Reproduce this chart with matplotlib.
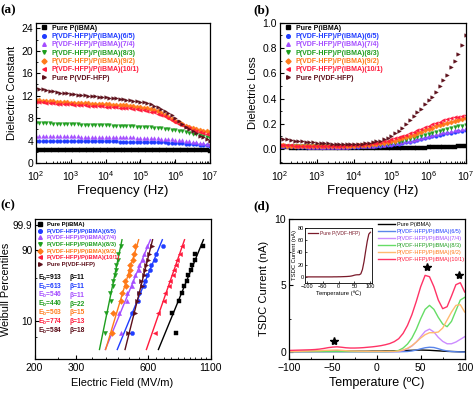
import numpy as np
import matplotlib
matplotlib.use('Agg')
import matplotlib.pyplot as plt
from matplotlib.lines import Line2D
from matplotlib.ticker import LogLocator, NullFormatter, FixedLocator, MultipleLocator

plt.rcParams['font.family'] = ['Liberation Sans', 'DejaVu Sans']
plt.rcParams['mathtext.default'] = 'regular'
plt.rcParams['xtick.direction'] = 'in'
plt.rcParams['ytick.direction'] = 'in'

# ---------------- data ----------------
names = ['Pure P(iBMA)', 'P(VDF-HFP)/P(iBMA)(6/5)', 'P(VDF-HFP)/P(iBMA)(7/4)',
         'P(VDF-HFP)/P(iBMA)(8/3)', 'P(VDF-HFP)/P(iBMA)(9/2)',
         'P(VDF-HFP)/P(iBMA)(10/1)', 'Pure P(VDF-HFP)']
colors = ['#000000', '#1f3cff', '#a54dff', '#1e9e1e', '#ff7a1a', '#ff1a3c', '#5c0f1a']
markers = ['s', 'o', '^', 'v', 'D', '<', '>']

# frequency exponents (log10 Hz), 0.1 decade steps
log_freq = [2.0, 2.1, 2.2, 2.3, 2.4, 2.5, 2.6, 2.7, 2.8, 2.9, 3.0,
            3.1, 3.2, 3.3, 3.4, 3.5, 3.6, 3.7, 3.8, 3.9, 4.0,
            4.1, 4.2, 4.3, 4.4, 4.5, 4.6, 4.7, 4.8, 4.9, 5.0,
            5.1, 5.2, 5.3, 5.4, 5.5, 5.6, 5.7, 5.8, 5.9, 6.0,
            6.1, 6.2, 6.3, 6.4, 6.5, 6.6, 6.7, 6.8, 6.9, 7.0]

eps_ibma = [2.40, 2.40, 2.39, 2.39, 2.38, 2.38, 2.37, 2.37, 2.37, 2.36, 2.36,
            2.36, 2.35, 2.35, 2.35, 2.34, 2.34, 2.34, 2.33, 2.33, 2.33,
            2.33, 2.32, 2.32, 2.32, 2.32, 2.31, 2.31, 2.31, 2.31, 2.30,
            2.30, 2.30, 2.30, 2.29, 2.29, 2.29, 2.28, 2.28, 2.28, 2.27,
            2.27, 2.27, 2.26, 2.26, 2.25, 2.25, 2.24, 2.24, 2.23, 2.22]
eps_65 = [3.97, 3.96, 3.95, 3.95, 3.94, 3.93, 3.93, 3.92, 3.92, 3.91, 3.91,
          3.90, 3.90, 3.89, 3.89, 3.88, 3.88, 3.87, 3.87, 3.86, 3.86,
          3.85, 3.85, 3.84, 3.83, 3.83, 3.82, 3.81, 3.80, 3.79, 3.78,
          3.77, 3.76, 3.74, 3.73, 3.71, 3.69, 3.67, 3.64, 3.61, 3.58,
          3.54, 3.50, 3.46, 3.41, 3.36, 3.31, 3.26, 3.21, 3.16, 3.10]
eps_74 = [4.85, 4.84, 4.83, 4.82, 4.81, 4.80, 4.79, 4.78, 4.77, 4.76, 4.75,
          4.74, 4.73, 4.72, 4.71, 4.70, 4.69, 4.68, 4.67, 4.66, 4.65,
          4.64, 4.63, 4.62, 4.61, 4.60, 4.58, 4.57, 4.55, 4.53, 4.51,
          4.49, 4.47, 4.44, 4.41, 4.38, 4.34, 4.30, 4.25, 4.20, 4.14,
          4.08, 4.01, 3.94, 3.86, 3.78, 3.70, 3.62, 3.54, 3.46, 3.38]
eps_83 = [7.12, 7.10, 7.08, 7.06, 7.04, 7.02, 7.00, 6.98, 6.96, 6.94, 6.92,
          6.90, 6.88, 6.86, 6.84, 6.82, 6.80, 6.78, 6.76, 6.74, 6.72,
          6.70, 6.68, 6.66, 6.64, 6.62, 6.59, 6.56, 6.53, 6.50, 6.46,
          6.42, 6.38, 6.33, 6.28, 6.22, 6.16, 6.09, 6.01, 5.93, 5.84,
          5.74, 5.63, 5.51, 5.38, 5.24, 5.09, 4.93, 4.76, 4.58, 4.38]
eps_92 = [11.20, 11.15, 11.10, 11.06, 11.02, 10.98, 10.94, 10.90, 10.86, 10.82, 10.78,
          10.75, 10.72, 10.68, 10.65, 10.62, 10.59, 10.56, 10.53, 10.50, 10.47,
          10.44, 10.41, 10.38, 10.34, 10.30, 10.26, 10.21, 10.15, 10.06, 9.95,
          9.85, 9.73, 9.58, 9.40, 9.18, 8.92, 8.62, 8.28, 7.92, 7.56,
          7.22, 6.92, 6.66, 6.44, 6.25, 6.08, 5.93, 5.79, 5.66, 5.54]
eps_101 = [10.92, 10.86, 10.80, 10.75, 10.70, 10.65, 10.60, 10.56, 10.52, 10.48, 10.44,
           10.40, 10.36, 10.32, 10.28, 10.24, 10.20, 10.16, 10.12, 10.08, 10.04,
           10.00, 9.96, 9.92, 9.88, 9.84, 9.79, 9.74, 9.68, 9.61, 9.53,
           9.43, 9.31, 9.17, 9.00, 8.80, 8.57, 8.31, 8.02, 7.70, 7.36,
           7.02, 6.70, 6.41, 6.15, 5.91, 5.69, 5.50, 5.33, 5.17, 5.02]
eps_hfp = [13.40, 13.25, 13.11, 12.98, 12.86, 12.75, 12.65, 12.56, 12.47, 12.39, 12.31,
           12.24, 12.17, 12.10, 12.04, 11.98, 11.92, 11.86, 11.80, 11.74, 11.68,
           11.62, 11.56, 11.50, 11.44, 11.37, 11.30, 11.22, 11.13, 11.03, 10.92,
           10.79, 10.63, 10.44, 10.22, 9.96, 9.66, 9.32, 8.94, 8.52, 8.00,
           7.40, 6.95, 6.50, 6.07, 5.66, 5.27, 4.90, 4.55, 4.22, 3.90]

loss_ibma = [0.014, 0.013, 0.013, 0.012, 0.012, 0.012, 0.011, 0.011, 0.011, 0.011, 0.011,
             0.010, 0.010, 0.010, 0.010, 0.010, 0.010, 0.010, 0.010, 0.010, 0.010,
             0.010, 0.010, 0.010, 0.010, 0.010, 0.010, 0.010, 0.010, 0.010, 0.010,
             0.010, 0.010, 0.010, 0.010, 0.011, 0.011, 0.011, 0.012, 0.012, 0.013,
             0.013, 0.014, 0.015, 0.016, 0.017, 0.018, 0.019, 0.021, 0.022, 0.024]
loss_65 = [0.024, 0.023, 0.022, 0.021, 0.021, 0.020, 0.020, 0.019, 0.019, 0.019, 0.018,
           0.018, 0.018, 0.018, 0.018, 0.018, 0.018, 0.018, 0.019, 0.019, 0.020,
           0.020, 0.021, 0.022, 0.023, 0.024, 0.026, 0.028, 0.030, 0.033, 0.036,
           0.040, 0.044, 0.049, 0.054, 0.060, 0.066, 0.072, 0.079, 0.086, 0.093,
           0.100, 0.107, 0.114, 0.120, 0.126, 0.131, 0.136, 0.141, 0.145, 0.149]
loss_74 = [0.026, 0.025, 0.024, 0.023, 0.022, 0.022, 0.021, 0.021, 0.020, 0.020, 0.020,
           0.020, 0.019, 0.019, 0.019, 0.019, 0.020, 0.020, 0.020, 0.021, 0.021,
           0.022, 0.023, 0.024, 0.025, 0.027, 0.029, 0.031, 0.034, 0.037, 0.041,
           0.045, 0.050, 0.055, 0.061, 0.067, 0.074, 0.081, 0.088, 0.096, 0.104,
           0.111, 0.119, 0.126, 0.133, 0.139, 0.145, 0.150, 0.155, 0.159, 0.163]
loss_83 = [0.028, 0.027, 0.026, 0.025, 0.024, 0.024, 0.023, 0.023, 0.022, 0.022, 0.022,
           0.022, 0.021, 0.021, 0.021, 0.021, 0.022, 0.022, 0.022, 0.023, 0.024,
           0.025, 0.026, 0.027, 0.029, 0.031, 0.033, 0.036, 0.039, 0.043, 0.047,
           0.052, 0.058, 0.064, 0.071, 0.078, 0.086, 0.094, 0.102, 0.111, 0.120,
           0.129, 0.137, 0.145, 0.153, 0.160, 0.167, 0.173, 0.179, 0.184, 0.189]
loss_92 = [0.030, 0.029, 0.028, 0.027, 0.026, 0.026, 0.025, 0.025, 0.025, 0.024, 0.024,
           0.024, 0.024, 0.024, 0.024, 0.024, 0.025, 0.025, 0.026, 0.027, 0.028,
           0.029, 0.031, 0.033, 0.035, 0.038, 0.041, 0.045, 0.050, 0.055, 0.061,
           0.068, 0.076, 0.085, 0.094, 0.104, 0.115, 0.126, 0.137, 0.148, 0.159,
           0.170, 0.180, 0.190, 0.199, 0.208, 0.216, 0.224, 0.232, 0.240, 0.248]
loss_101 = [0.032, 0.031, 0.030, 0.029, 0.028, 0.028, 0.027, 0.027, 0.027, 0.026, 0.026,
            0.026, 0.026, 0.026, 0.026, 0.027, 0.027, 0.028, 0.029, 0.030, 0.031,
            0.033, 0.035, 0.038, 0.041, 0.045, 0.050, 0.055, 0.061, 0.068, 0.076,
            0.085, 0.094, 0.104, 0.115, 0.126, 0.138, 0.150, 0.162, 0.174, 0.186,
            0.197, 0.208, 0.218, 0.227, 0.235, 0.243, 0.250, 0.257, 0.263, 0.268]
loss_hfp = [0.085, 0.080, 0.076, 0.072, 0.068, 0.064, 0.061, 0.058, 0.055, 0.053, 0.051,
            0.049, 0.047, 0.045, 0.044, 0.043, 0.042, 0.041, 0.041, 0.040, 0.040,
            0.041, 0.043, 0.046, 0.050, 0.055, 0.061, 0.068, 0.077, 0.088, 0.105,
            0.125, 0.145, 0.170, 0.200, 0.230, 0.260, 0.290, 0.320, 0.355, 0.385,
            0.415, 0.455, 0.500, 0.545, 0.590, 0.650, 0.700, 0.750, 0.820, 0.900]

eps_all = [eps_ibma, eps_65, eps_74, eps_83, eps_92, eps_101, eps_hfp]
loss_all = [loss_ibma, loss_65, loss_74, loss_83, loss_92, loss_101, loss_hfp]

# Weibull breakdown data
weib_pct = [6, 14, 22, 30, 38, 46, 54, 62, 70, 78, 86, 94]
E_ibma = [786, 760, 810, 838, 848, 880, 888, 915, 920, 945, 950, 1023]
E_65 = [515, 512, 545, 552, 578, 583, 596, 614, 620, 642, 648, 695]
E_74 = [462, 455, 488, 492, 512, 520, 531, 548, 552, 570, 576, 592]
E_83 = [396, 401, 418, 416, 428, 426, 437, 441, 440, 451, 449, 463]
E_92 = [422, 428, 462, 466, 483, 481, 498, 505, 503, 520, 523, 529]
E_101 = [645, 662, 700, 708, 735, 742, 762, 770, 790, 795, 820, 835]
E_hfp = [496, 530, 538, 548, 565, 563, 578, 586, 588, 601, 604, 622]
E_all = [E_ibma, E_65, E_74, E_83, E_92, E_101, E_hfp]
Eb = [913, 613, 546, 440, 503, 774, 584]
beta = [11, 11, 11, 22, 15, 13, 18]
fit_w_range = [-3.5, 1.3]

# TSDC data
temp = [-100, -95, -90, -85, -80, -75, -70, -65, -60, -55, -50, -45, -40, -35, -30,
        -25, -20, -15, -10, -5, 0, 5, 10, 15, 20, 25, 30, 35, 40, 45, 50, 55, 60,
        65, 70, 75, 80, 85, 90, 95, 100]
tsdc_ibma = [0.03, 0.03, 0.03, 0.04, 0.04, 0.04, 0.05, 0.05, 0.05, 0.06, 0.06, 0.06, 0.06, 0.06, 0.06,
             0.06, 0.06, 0.06, 0.06, 0.07, 0.07, 0.07, 0.08, 0.08, 0.09, 0.10, 0.11, 0.12, 0.13, 0.14, 0.15, 0.14, 0.13,
             0.11, 0.09, 0.07, 0.05, 0.04, 0.03, 0.02, 0.02]
tsdc_65 = [0.02, 0.02, 0.02, 0.02, 0.02, 0.02, 0.02, 0.02, 0.02, 0.02, 0.02, 0.02, 0.02, 0.02, 0.02,
           0.02, 0.02, 0.02, 0.02, 0.02, 0.02, 0.02, 0.02, 0.02, 0.02, 0.02, 0.03, 0.04, 0.08, 0.15, 0.24, 0.32, 0.36,
           0.34, 0.25, 0.15, 0.08, 0.04, 0.02, 0.01, 0.00]
tsdc_74 = [0.02, 0.02, 0.02, 0.02, 0.02, 0.02, 0.02, 0.02, 0.02, 0.02, 0.02, 0.02, 0.02, 0.02, 0.02,
           0.02, 0.02, 0.02, 0.02, 0.02, 0.02, 0.02, 0.02, 0.02, 0.03, 0.05, 0.12, 0.25, 0.45, 0.75, 1.15, 1.55, 1.72,
           1.50, 1.10, 0.80, 0.62, 0.62, 0.75, 0.95, 1.15]
tsdc_83 = [0.03, 0.03, 0.03, 0.03, 0.03, 0.03, 0.03, 0.03, 0.03, 0.03, 0.03, 0.03, 0.03, 0.03, 0.03,
           0.03, 0.03, 0.03, 0.03, 0.03, 0.03, 0.03, 0.03, 0.04, 0.05, 0.12, 0.30, 0.60, 1.05, 1.70, 2.50, 3.20, 3.50,
           3.20, 2.60, 2.10, 1.90, 2.30, 3.10, 3.90, 4.10]
tsdc_92 = [0.03, 0.04, 0.05, 0.06, 0.07, 0.08, 0.09, 0.10, 0.12, 0.13, 0.14, 0.15, 0.13, 0.10, 0.08,
           0.07, 0.06, 0.06, 0.05, 0.05, 0.05, 0.05, 0.05, 0.05, 0.05, 0.08, 0.15, 0.28, 0.48, 0.75, 1.05, 1.30, 1.45,
           1.45, 1.50, 1.80, 2.40, 3.00, 3.50, 3.55, 3.00]
tsdc_101 = [0.12, 0.13, 0.14, 0.15, 0.16, 0.17, 0.19, 0.22, 0.27, 0.33, 0.37, 0.39, 0.36, 0.32, 0.30,
            0.30, 0.31, 0.33, 0.36, 0.39, 0.43, 0.48, 0.55, 0.64, 0.78, 1.00, 1.40, 2.00, 2.80, 3.80, 4.90, 5.75, 5.65,
            4.90, 3.90, 3.25, 3.40, 4.20, 5.05, 5.20, 4.50]
tsdc_hfp = [0.0, 0.0, 0.0, 0.0, 0.0, 0.0, 0.0, 0.0, 0.0, 0.0, 0.0, 0.0, 0.0, 0.0, 0.0,
            0.0, 0.0, 0.1, 0.1, 0.1, 0.2, 0.2, 0.3, 0.4, 0.5, 0.6, 0.8, 1.0, 1.4, 2.0, 2.8, 3.3, 3.5,
            3.5, 5.0, 12.0, 25.0, 42.0, 58.0, 70.0, 73.0]
tsdc_all = [tsdc_ibma, tsdc_65, tsdc_74, tsdc_83, tsdc_92, tsdc_101]
tsdc_line_colors = ['#000000', '#5a86ea', '#cc8cff', '#66dd66', '#ffbb70', '#ff3366']
star_T = [-48, 57, 93]
star_I = [0.85, 6.35, 5.75]

# ---------------- figure ----------------
W, H = 474, 393
fig = plt.figure(figsize=(W / 100, H / 100), dpi=100)


def axpos(l, r, t, b):
    return [l / W, 1 - b / H, (r - l) / W, (b - t) / H]


axA = fig.add_axes(axpos(36, 210, 22.7, 163))
axB = fig.add_axes(axpos(279.7, 465.7, 22.7, 163))
axC = fig.add_axes(axpos(34.5, 210.5, 218.7, 359.3))
axD = fig.add_axes(axpos(288.7, 464.7, 218.7, 358.7))
axI = fig.add_axes(axpos(305, 372, 228, 283))

TICK_FS = 7.5
YLAB_FS = 8
LEG_PROP = dict(family='Liberation Sans', weight='bold', size=5.0)


def style(ax, xpad=3):
    ax.tick_params(which='both', top=False, right=False, labelsize=TICK_FS, pad=2)
    ax.tick_params(axis='x', which='both', pad=xpad)
    ax.tick_params(which='major', length=3, width=0.8)
    ax.tick_params(which='minor', length=1.6, width=0.6)
    for s in ax.spines.values():
        s.set_linewidth(0.9)


freq = [10.0 ** v for v in log_freq]

for ax, data, ylab in [(axA, eps_all, 'Dielectric Constant'), (axB, loss_all, 'Dielectric Loss')]:
    for d, c, m in zip(data, colors, markers):
        ax.plot(freq, d, ls='none', marker=m, ms=2.6, color=c, mec=c, mew=0.3)
    ax.set_xscale('log')
    ax.set_xlim(1e2, 1e7)
    ax.xaxis.set_major_locator(LogLocator(base=10, numticks=10))
    ax.xaxis.set_minor_locator(LogLocator(base=10, subs=np.arange(2, 10), numticks=20))
    ax.xaxis.set_minor_formatter(NullFormatter())
    ax.set_xlabel('Frequency (Hz)', fontsize=9.5, labelpad=1.5)
    ax.set_ylabel(ylab, fontsize=YLAB_FS, labelpad=3)
    style(ax, xpad=4.5)
    handles = [Line2D([], [], ls='none', marker=m, color=c, ms=2.6) for c, m in zip(colors, markers)]
    ax.legend(handles, names, loc='upper left', bbox_to_anchor=(0.03, 0.985), frameon=False,
              prop=LEG_PROP, labelcolor=colors, handlelength=0.8, handletextpad=0.7,
              labelspacing=0.19, borderpad=0, borderaxespad=0)

axA.set_ylim(0, 25)
axA.yaxis.set_major_locator(MultipleLocator(4))
axA.yaxis.set_minor_locator(MultipleLocator(2))
axB.set_ylim(-0.11, 1.0)
axB.set_yticks([0.0, 0.2, 0.4, 0.6, 0.8, 1.0])
axB.set_yticklabels(['0.0', '0.2', '0.4', '0.6', '0.8', '1.0'])
axB.yaxis.set_minor_locator(MultipleLocator(0.1))

# ---- (c) Weibull ----
def wtrans(p):
    p = np.asarray(p, dtype=float) / 100.0
    return np.log(-np.log(1 - p))


wy = wtrans(weib_pct)
for E, c, m, e0, b in zip(E_all, colors, markers, Eb, beta):
    axC.plot(E, wy, ls='none', marker=m, ms=3.0, color=c, mew=0.3)
    wl = np.array(fit_w_range)
    axC.plot(e0 * np.exp(wl / b), wl, color=c, lw=1.0)
axC.set_xscale('log')
axC.set_xlim(200, 1100)
axC.xaxis.set_major_locator(FixedLocator([200, 300, 600, 1100]))
axC.set_xticklabels(['200', '300', '600', '1100'])
axC.xaxis.set_minor_locator(FixedLocator([250, 350, 400, 450, 500, 550, 650, 700, 750, 800, 850, 900, 950, 1000, 1050]))
axC.xaxis.set_minor_formatter(NullFormatter())
axC.set_ylim(-3.93, 2.22)
axC.set_yticks(wtrans([10, 90, 99.9]))
axC.set_yticklabels(['10', '90', '99.9'])
axC.yaxis.set_minor_locator(FixedLocator(wtrans([5, 50])))
axC.set_xlabel('Electric Field (MV/m)', fontsize=7.9, labelpad=3)
style(axC)
axC.tick_params(axis='y', labelsize=7.2, pad=1.5)
axC.set_ylabel('Weibull Percentiles', fontsize=7.8)
axC.yaxis.set_label_coords(-0.132, 0.5)
handlesC = [Line2D([], [], ls='none', marker=m, color=c, ms=2.6) for c, m in zip(colors, markers)]
axC.legend(handlesC, names, loc='upper left', bbox_to_anchor=(0.02, 0.975), frameon=False,
           prop=dict(family='Liberation Sans', weight='bold', size=4.2), labelcolor=colors,
           handlelength=0.8, handletextpad=0.7, labelspacing=0.26, borderpad=0, borderaxespad=0)
for i, (c, e0, b) in enumerate(zip(colors, Eb, beta)):
    yy = 1 - (277.7 + 8.8 * i - 218.7) / (359.3 - 218.7)
    axC.text(0.02, yy, 'E$_b$=%d' % e0, transform=axC.transAxes, color=c, fontsize=4.8,
             fontweight='bold', va='center', ha='left')
    axC.text(0.197, yy, '\u03b2=%d' % b, transform=axC.transAxes, color=c, fontsize=4.8,
             fontweight='bold', va='center', ha='left')

# ---- (d) TSDC ----
for d, c in zip(tsdc_all, tsdc_line_colors):
    axD.plot(temp, d, color=c, lw=1.0)
axD.plot(star_T, star_I, ls='none', marker='*', ms=6, color='black')
axD.set_xlim(-100, 100)
axD.set_ylim(-0.5, 10)
axD.xaxis.set_major_locator(MultipleLocator(50))
axD.xaxis.set_minor_locator(MultipleLocator(25))
axD.yaxis.set_major_locator(MultipleLocator(5))
axD.yaxis.set_minor_locator(MultipleLocator(2.5))
axD.set_xlabel('Temperature (\u00baC)', fontsize=9, labelpad=3)
axD.set_ylabel('TSDC Current (nA)', fontsize=YLAB_FS, labelpad=4)
style(axD)
handlesD = [Line2D([], [], color=c, lw=1.0) for c in tsdc_line_colors]
axD.legend(handlesD, names[:6], loc='upper right', bbox_to_anchor=(1.0, 0.975), frameon=False,
           prop=dict(family='Liberation Sans', size=4.0), labelcolor=colors[:6],
           handlelength=3.0, handletextpad=0.3, labelspacing=0.36, borderpad=0, borderaxespad=0)

axI.plot(temp, tsdc_hfp, color='#7a1a2a', lw=0.9)
axI.set_xlim(-105, 105)
axI.set_ylim(-10, 80)
axI.xaxis.set_major_locator(MultipleLocator(50))
axI.yaxis.set_major_locator(MultipleLocator(20))
axI.tick_params(which='both', top=False, right=False, labelsize=4, pad=1, length=1.5, width=0.5)
for s in axI.spines.values():
    s.set_linewidth(0.6)
axI.set_xlabel('Temperature (\u2103)', fontsize=4.2, labelpad=0.5)
axI.set_ylabel('TSDC Current (nA)', fontsize=4.2, labelpad=0.5)
axI.legend([Line2D([], [], color='#7a1a2a', lw=0.9)], ['Pure P(VDF-HFP)'], loc='upper left',
           bbox_to_anchor=(0.05, 0.95), frameon=False, prop=dict(size=3.6),
           labelcolor=['#7a1a2a'], handlelength=2.0, handletextpad=0.3, borderpad=0, borderaxespad=0)

# panel labels
for x, y, t in [(0, 4, '(a)'), (253, 4, '(b)'), (0, 199, '(c)'), (253, 200, '(d)')]:
    fig.text(x / W, 1 - y / H, t, fontsize=9.5, fontweight='bold', family='Liberation Serif',
             va='top', ha='left')

fig.savefig('out.png', dpi=100)
